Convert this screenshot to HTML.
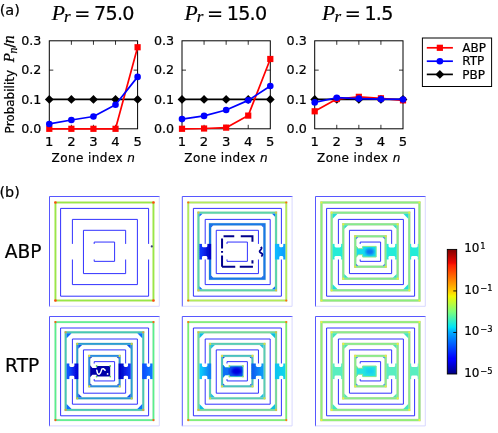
<!DOCTYPE html>
<html><head><meta charset="utf-8"><title>figure</title>
<style>
html,body{margin:0;padding:0;background:#fff;overflow:hidden;}
svg{display:block;}
text{font-family:"DejaVu Sans","Liberation Sans",sans-serif;fill:#000;stroke:#000;stroke-width:0.2px;}
.it{font-family:"DejaVu Serif","Liberation Serif",serif;font-style:italic;}
.ob{font-style:italic;}
.it2{font-family:"Liberation Serif","DejaVu Serif",serif;font-style:italic;}
</style></head><body>
<svg width="498" height="433" viewBox="0 0 498 433">
<defs>
<filter id="b03" x="-10%" y="-10%" width="120%" height="120%"><feGaussianBlur stdDeviation="0.45"/></filter>
<filter id="b06" x="-10%" y="-10%" width="120%" height="120%"><feGaussianBlur stdDeviation="0.6"/></filter>
<filter id="b10" x="-20%" y="-20%" width="140%" height="140%"><feGaussianBlur stdDeviation="1.0"/></filter>
<linearGradient id="jet" x1="0" y1="1" x2="0" y2="0">
<stop offset="0" stop-color="#000080"/>
<stop offset="0.11" stop-color="#0000ff"/>
<stop offset="0.125" stop-color="#0000ff"/>
<stop offset="0.34" stop-color="#00b0ff"/>
<stop offset="0.375" stop-color="#00e4f8"/>
<stop offset="0.5" stop-color="#7dff7a"/>
<stop offset="0.625" stop-color="#f4f802"/>
<stop offset="0.66" stop-color="#ffd000"/>
<stop offset="0.875" stop-color="#ff1e00"/>
<stop offset="0.89" stop-color="#f10800"/>
<stop offset="1" stop-color="#800000"/>
</linearGradient>
</defs>
<rect width="498" height="433" fill="#fff"/>

<g>
<rect x="49.3" y="40.8" width="88.3" height="88.00000000000001" fill="none" stroke="#000" stroke-width="1"/>
<path d="M71.38 128.8v-4M71.38 40.8v4M93.45 128.8v-4M93.45 40.8v4M115.52 128.8v-4M115.52 40.8v4M49.3 99.47h4M137.6 99.47h-4M49.3 70.13h4M137.6 70.13h-4" stroke="#000" stroke-width="0.8" fill="none"/>
<polyline points="49.30,99.47 71.38,99.47 93.45,99.47 115.52,99.47 137.60,99.47" fill="none" stroke="#000" stroke-width="1.7" stroke-linejoin="round"/><path d="M44.90 99.47L49.30 95.07L53.70 99.47L49.30 103.87Z" fill="#000"/><path d="M66.97 99.47L71.38 95.07L75.78 99.47L71.38 103.87Z" fill="#000"/><path d="M89.05 99.47L93.45 95.07L97.85 99.47L93.45 103.87Z" fill="#000"/><path d="M111.12 99.47L115.52 95.07L119.92 99.47L115.52 103.87Z" fill="#000"/><path d="M133.20 99.47L137.60 95.07L142.00 99.47L137.60 103.87Z" fill="#000"/>
<polyline points="49.30,128.80 71.38,128.80 93.45,128.80 115.52,128.80 137.60,47.25" fill="none" stroke="#ff0000" stroke-width="1.7" stroke-linejoin="round"/><rect x="46.20" y="125.70" width="6.2" height="6.2" fill="#ff0000"/><rect x="68.28" y="125.70" width="6.2" height="6.2" fill="#ff0000"/><rect x="90.35" y="125.70" width="6.2" height="6.2" fill="#ff0000"/><rect x="112.42" y="125.70" width="6.2" height="6.2" fill="#ff0000"/><rect x="134.50" y="44.15" width="6.2" height="6.2" fill="#ff0000"/>
<polyline points="49.30,123.96 71.38,120.00 93.45,116.48 115.52,104.75 137.60,76.88" fill="none" stroke="#0000ff" stroke-width="1.7" stroke-linejoin="round"/><circle cx="49.30" cy="123.96" r="3.3" fill="#0000ff"/><circle cx="71.38" cy="120.00" r="3.3" fill="#0000ff"/><circle cx="93.45" cy="116.48" r="3.3" fill="#0000ff"/><circle cx="115.52" cy="104.75" r="3.3" fill="#0000ff"/><circle cx="137.60" cy="76.88" r="3.3" fill="#0000ff"/>
<text transform="translate(49.30,146.20) scale(1.1,1)" font-size="12" text-anchor="middle">1</text>
<text transform="translate(71.38,146.20) scale(1.1,1)" font-size="12" text-anchor="middle">2</text>
<text transform="translate(93.45,146.20) scale(1.1,1)" font-size="12" text-anchor="middle">3</text>
<text transform="translate(115.52,146.20) scale(1.1,1)" font-size="12" text-anchor="middle">4</text>
<text transform="translate(137.60,146.20) scale(1.1,1)" font-size="12" text-anchor="middle">5</text>
<text transform="translate(41.40,133.00) scale(1.06,1)" font-size="12" text-anchor="end">0.0</text>
<text transform="translate(41.40,103.67) scale(1.06,1)" font-size="12" text-anchor="end">0.1</text>
<text transform="translate(41.40,74.33) scale(1.06,1)" font-size="12" text-anchor="end">0.2</text>
<text transform="translate(41.40,45.00) scale(1.06,1)" font-size="12" text-anchor="end">0.3</text>
<text x="93.45" y="161.6" font-size="12" letter-spacing="0.42" text-anchor="middle">Zone index <tspan class="ob">n</tspan></text>
<text y="20.2" font-size="19.2"><tspan class="it2" font-size="21.6" x="51.70">P</tspan><tspan class="it2" font-size="17" dy="2.2" dx="-0.8">r</tspan><tspan dy="-2.2" x="74.30">=</tspan><tspan x="94.00" letter-spacing="-0.75">75.0</tspan></text>
</g>
<g>
<rect x="182.0" y="40.8" width="88.3" height="88.00000000000001" fill="none" stroke="#000" stroke-width="1"/>
<path d="M204.07 128.8v-4M204.07 40.8v4M226.15 128.8v-4M226.15 40.8v4M248.22 128.8v-4M248.22 40.8v4M182.0 99.47h4M270.3 99.47h-4M182.0 70.13h4M270.3 70.13h-4" stroke="#000" stroke-width="0.8" fill="none"/>
<polyline points="182.00,99.47 204.07,99.47 226.15,99.47 248.22,99.47 270.30,99.47" fill="none" stroke="#000" stroke-width="1.7" stroke-linejoin="round"/><path d="M177.60 99.47L182.00 95.07L186.40 99.47L182.00 103.87Z" fill="#000"/><path d="M199.67 99.47L204.07 95.07L208.47 99.47L204.07 103.87Z" fill="#000"/><path d="M221.75 99.47L226.15 95.07L230.55 99.47L226.15 103.87Z" fill="#000"/><path d="M243.82 99.47L248.22 95.07L252.62 99.47L248.22 103.87Z" fill="#000"/><path d="M265.90 99.47L270.30 95.07L274.70 99.47L270.30 103.87Z" fill="#000"/>
<polyline points="182.00,128.80 204.07,128.51 226.15,127.63 248.22,115.60 270.30,58.99" fill="none" stroke="#ff0000" stroke-width="1.7" stroke-linejoin="round"/><rect x="178.90" y="125.70" width="6.2" height="6.2" fill="#ff0000"/><rect x="200.97" y="125.41" width="6.2" height="6.2" fill="#ff0000"/><rect x="223.05" y="124.53" width="6.2" height="6.2" fill="#ff0000"/><rect x="245.12" y="112.50" width="6.2" height="6.2" fill="#ff0000"/><rect x="267.20" y="55.89" width="6.2" height="6.2" fill="#ff0000"/>
<polyline points="182.00,119.12 204.07,115.89 226.15,110.03 248.22,100.35 270.30,85.97" fill="none" stroke="#0000ff" stroke-width="1.7" stroke-linejoin="round"/><circle cx="182.00" cy="119.12" r="3.3" fill="#0000ff"/><circle cx="204.07" cy="115.89" r="3.3" fill="#0000ff"/><circle cx="226.15" cy="110.03" r="3.3" fill="#0000ff"/><circle cx="248.22" cy="100.35" r="3.3" fill="#0000ff"/><circle cx="270.30" cy="85.97" r="3.3" fill="#0000ff"/>
<text transform="translate(182.00,146.20) scale(1.1,1)" font-size="12" text-anchor="middle">1</text>
<text transform="translate(204.07,146.20) scale(1.1,1)" font-size="12" text-anchor="middle">2</text>
<text transform="translate(226.15,146.20) scale(1.1,1)" font-size="12" text-anchor="middle">3</text>
<text transform="translate(248.22,146.20) scale(1.1,1)" font-size="12" text-anchor="middle">4</text>
<text transform="translate(270.30,146.20) scale(1.1,1)" font-size="12" text-anchor="middle">5</text>
<text transform="translate(174.10,133.00) scale(1.06,1)" font-size="12" text-anchor="end">0.0</text>
<text transform="translate(174.10,103.67) scale(1.06,1)" font-size="12" text-anchor="end">0.1</text>
<text transform="translate(174.10,74.33) scale(1.06,1)" font-size="12" text-anchor="end">0.2</text>
<text transform="translate(174.10,45.00) scale(1.06,1)" font-size="12" text-anchor="end">0.3</text>
<text x="226.15" y="161.6" font-size="12" letter-spacing="0.42" text-anchor="middle">Zone index <tspan class="ob">n</tspan></text>
<text y="20.2" font-size="19.2"><tspan class="it2" font-size="21.6" x="184.40">P</tspan><tspan class="it2" font-size="17" dy="2.2" dx="-0.8">r</tspan><tspan dy="-2.2" x="207.00">=</tspan><tspan x="226.70" letter-spacing="-0.75">15.0</tspan></text>
</g>
<g>
<rect x="314.7" y="40.8" width="88.3" height="88.00000000000001" fill="none" stroke="#000" stroke-width="1"/>
<path d="M336.77 128.8v-4M336.77 40.8v4M358.85 128.8v-4M358.85 40.8v4M380.92 128.8v-4M380.92 40.8v4M314.7 99.47h4M403.0 99.47h-4M314.7 70.13h4M403.0 70.13h-4" stroke="#000" stroke-width="0.8" fill="none"/>
<polyline points="314.70,99.47 336.77,99.47 358.85,99.47 380.92,99.47 403.00,99.47" fill="none" stroke="#000" stroke-width="1.7" stroke-linejoin="round"/><path d="M310.30 99.47L314.70 95.07L319.10 99.47L314.70 103.87Z" fill="#000"/><path d="M332.38 99.47L336.77 95.07L341.17 99.47L336.77 103.87Z" fill="#000"/><path d="M354.45 99.47L358.85 95.07L363.25 99.47L358.85 103.87Z" fill="#000"/><path d="M376.52 99.47L380.92 95.07L385.32 99.47L380.92 103.87Z" fill="#000"/><path d="M398.60 99.47L403.00 95.07L407.40 99.47L403.00 103.87Z" fill="#000"/>
<polyline points="314.70,111.29 336.77,99.03 358.85,96.83 380.92,98.29 403.00,100.35" fill="none" stroke="#ff0000" stroke-width="1.7" stroke-linejoin="round"/><rect x="311.60" y="108.19" width="6.2" height="6.2" fill="#ff0000"/><rect x="333.67" y="95.93" width="6.2" height="6.2" fill="#ff0000"/><rect x="355.75" y="93.73" width="6.2" height="6.2" fill="#ff0000"/><rect x="377.82" y="95.19" width="6.2" height="6.2" fill="#ff0000"/><rect x="399.90" y="97.25" width="6.2" height="6.2" fill="#ff0000"/>
<polyline points="314.70,102.40 336.77,97.71 358.85,98.59 380.92,99.17 403.00,99.47" fill="none" stroke="#0000ff" stroke-width="1.7" stroke-linejoin="round"/><circle cx="314.70" cy="102.40" r="3.3" fill="#0000ff"/><circle cx="336.77" cy="97.71" r="3.3" fill="#0000ff"/><circle cx="358.85" cy="98.59" r="3.3" fill="#0000ff"/><circle cx="380.92" cy="99.17" r="3.3" fill="#0000ff"/><circle cx="403.00" cy="99.47" r="3.3" fill="#0000ff"/>
<text transform="translate(314.70,146.20) scale(1.1,1)" font-size="12" text-anchor="middle">1</text>
<text transform="translate(336.77,146.20) scale(1.1,1)" font-size="12" text-anchor="middle">2</text>
<text transform="translate(358.85,146.20) scale(1.1,1)" font-size="12" text-anchor="middle">3</text>
<text transform="translate(380.92,146.20) scale(1.1,1)" font-size="12" text-anchor="middle">4</text>
<text transform="translate(403.00,146.20) scale(1.1,1)" font-size="12" text-anchor="middle">5</text>
<text transform="translate(306.80,133.00) scale(1.06,1)" font-size="12" text-anchor="end">0.0</text>
<text transform="translate(306.80,103.67) scale(1.06,1)" font-size="12" text-anchor="end">0.1</text>
<text transform="translate(306.80,74.33) scale(1.06,1)" font-size="12" text-anchor="end">0.2</text>
<text transform="translate(306.80,45.00) scale(1.06,1)" font-size="12" text-anchor="end">0.3</text>
<text x="358.85" y="161.6" font-size="12" letter-spacing="0.42" text-anchor="middle">Zone index <tspan class="ob">n</tspan></text>
<text y="20.2" font-size="19.2"><tspan class="it2" font-size="21.6" x="322.10">P</tspan><tspan class="it2" font-size="17" dy="2.2" dx="-0.8">r</tspan><tspan dy="-2.2" x="344.70">=</tspan><tspan x="364.40" letter-spacing="-0.75">1.5</tspan></text>
</g>
<text transform="translate(14.4,133.4) rotate(-90)" font-size="12" text-anchor="start">Probability<tspan class="it2" font-size="15" dx="7.6" stroke-width="0.3">P</tspan><tspan class="it2" font-size="11.6" dy="2.2" dx="-0.2">n</tspan><tspan dy="-2.2" dx="-0.2" font-size="14">/</tspan><tspan class="it2" font-size="16.4" dx="-0.4">n</tspan></text>
<text transform="translate(-0.3,14.8) scale(1.07,1)" font-size="13.6" stroke-width="0.35">(a)</text>
<text transform="translate(-0.5,197.4) scale(1.05,1)" font-size="13.6" stroke-width="0.35">(b)</text>
<text x="4.8" y="257.7" font-size="18.6" stroke-width="0.4">ABP</text>
<text x="5.1" y="371.8" font-size="18.6" stroke-width="0.4">RTP</text>
<g>
<rect x="422.4" y="38" width="69.2" height="48.5" fill="#fff" stroke="#000" stroke-width="1"/>
<path d="M426.8 47.8H452.9" stroke="#ff0000" stroke-width="1.7"/>
<rect x="436.75" y="44.70" width="6.2" height="6.2" fill="#ff0000"/>
<text x="462.3" y="51.90" font-size="12">ABP</text>
<path d="M426.8 61.2H452.9" stroke="#0000ff" stroke-width="1.7"/>
<circle cx="439.85" cy="61.20" r="3.3" fill="#0000ff"/>
<text x="462.3" y="65.30" font-size="12">RTP</text>
<path d="M426.8 74.4H452.9" stroke="#000" stroke-width="1.7"/>
<path d="M435.45 74.40L439.85 70.00L444.25 74.40L439.85 78.80Z" fill="#000"/>
<text x="462.3" y="78.50" font-size="12">PBP</text>
</g>
<g>
<rect x="447.3" y="249.4" width="9.4" height="124.6" fill="url(#jet)" stroke="#000" stroke-width="0.9"/>
<text x="464.2" y="252.30" font-size="12">10<tspan font-size="8.4" dy="-3.3" dx="0.7">1</tspan></text>
<path d="M456.7 290.93h-3.4" stroke="#000" stroke-width="0.9"/>
<text x="464.2" y="293.83" font-size="12">10<tspan font-size="8.4" dy="-3.3" dx="0.7">−1</tspan></text>
<path d="M456.7 332.47h-3.4" stroke="#000" stroke-width="0.9"/>
<text x="464.2" y="335.37" font-size="12">10<tspan font-size="8.4" dy="-3.3" dx="0.7">−3</tspan></text>
<text x="464.2" y="376.90" font-size="12">10<tspan font-size="8.4" dy="-3.3" dx="0.7">−5</tspan></text>
</g>
<g transform="translate(49.2,196.1)">
<g filter="url(#b03)">
<rect x="6.25" y="6.40" width="98.00" height="98.00" fill="none" stroke="#dcecb0" stroke-width="2.3"/>
<rect x="6.25" y="6.40" width="98.00" height="98.00" fill="none" stroke="#98e848" stroke-width="1.5"/>
</g>

<g filter="url(#b06)">
</g>

<g filter="url(#b03)"></g>
<g filter="url(#b06)">
<circle cx="6.25" cy="6.40" r="1.3" fill="#ff4a10"/>
<circle cx="6.25" cy="104.40" r="1.3" fill="#ff4a10"/>
<circle cx="104.25" cy="6.40" r="1.3" fill="#ff4a10"/>
<circle cx="104.25" cy="104.40" r="1.3" fill="#ff4a10"/>
</g>
<path d="M99.40 47.40V12.30H11.40V100.10H99.40V63.80M23.20 47.40V23.30H88.20V88.50H23.20V63.80M76.45 47.40V34.20H34.25V77.50H76.45V63.80M45.00 47.45V45.95H65.40V65.25H45.00V63.75" fill="none" stroke="#2626ff" stroke-width="0.95" stroke-linejoin="round" stroke-linecap="round"/>
<circle cx="102.6" cy="50.3" r="1.1" fill="#3a3a78"/>
<path d="M0.3 110.5V0.4H110.5" fill="none" stroke="#4444ff" stroke-width="0.9"/>
<path d="M0.3 110.2H110.1V0.4" fill="none" stroke="#d4d4ff" stroke-width="0.9"/>
</g>
<g transform="translate(182.0,196.1)">
<g filter="url(#b03)">
<rect x="6.25" y="6.40" width="98.00" height="98.00" fill="none" stroke="#dfe8df" stroke-width="2.5"/>
<rect x="6.25" y="6.40" width="98.00" height="98.00" fill="none" stroke="#b4ec5a" stroke-width="1.7"/>
<rect x="16.45" y="16.60" width="77.60" height="77.60" fill="none" stroke="#dfe8df" stroke-width="2.8"/>
<rect x="16.45" y="16.60" width="77.60" height="77.60" fill="none" stroke="#5cd4a8" stroke-width="2.0"/>
<rect x="28.05" y="28.20" width="54.40" height="54.40" fill="none" stroke="#dfe8df" stroke-width="3.0"/>
<rect x="28.05" y="28.20" width="54.40" height="54.40" fill="none" stroke="#1478e6" stroke-width="2.2"/>
</g>

<g filter="url(#b06)">
<linearGradient id="g1" x1="0" y1="0" x2="1" y2="0"><stop offset="0.15" stop-color="#10b8ff"/><stop offset="0.85" stop-color="#08a0ff"/></linearGradient><rect x="92.95" y="47.80" width="10.40" height="15.60" fill="url(#g1)"/>
<linearGradient id="g2" x1="0" y1="0" x2="1" y2="0"><stop offset="0.15" stop-color="#0a38ff"/><stop offset="0.85" stop-color="#0404c8"/></linearGradient><rect x="17.35" y="47.80" width="11.80" height="15.60" fill="url(#g2)"/>
</g>
<g filter="url(#b03)"><path d="M40.05 70.60V59.40M40.05 56.60v-1.6M40.05 52.40V42.40M41.55 40.20H52.25M58.75 40.20H70.45V45.70M70.45 64.10v3.4M70.95 70.60H57.75M53.25 70.60H40.05" stroke="#06068c" stroke-width="2" fill="none"/><path d="M78.25 50.40q2.6 1.2 0.4 3.4q-2.4 2 0.6 3.2q2.4 1.2 0 3.6" stroke="#06068c" stroke-width="1.8" fill="none"/></g>
<g filter="url(#b03)"><rect x="97.25" y="45.30" width="4.00" height="5.90" rx="1.4" fill="#fff"/><rect x="97.25" y="60.00" width="4.00" height="5.90" rx="1.4" fill="#fff"/><rect x="19.95" y="45.30" width="5.40" height="5.90" rx="1.4" fill="#fff"/><rect x="19.95" y="60.00" width="5.40" height="5.90" rx="1.4" fill="#fff"/><rect x="73.85" y="45.30" width="5.60" height="5.90" rx="1.4" fill="#fff"/><rect x="73.85" y="60.00" width="5.60" height="5.90" rx="1.4" fill="#fff"/></g>
<g filter="url(#b06)">
<circle cx="6.25" cy="6.40" r="1.1" fill="#ff6a10"/>
<circle cx="6.25" cy="104.40" r="1.1" fill="#ff6a10"/>
<circle cx="104.25" cy="6.40" r="1.1" fill="#ff6a10"/>
<circle cx="104.25" cy="104.40" r="1.1" fill="#ff6a10"/>
<circle cx="16.45" cy="16.60" r="1.1" fill="#e0c040"/>
<circle cx="16.45" cy="94.20" r="1.1" fill="#e0c040"/>
<circle cx="94.05" cy="16.60" r="1.1" fill="#e0c040"/>
<circle cx="94.05" cy="94.20" r="1.1" fill="#e0c040"/>
<path d="M17.45 17.60L20.49 17.60L17.45 20.64Z" fill="#0a6cff"/>
<path d="M17.45 93.20L20.49 93.20L17.45 90.16Z" fill="#0a6cff"/>
<path d="M93.05 17.60L90.01 17.60L93.05 20.64Z" fill="#0a6cff"/>
<path d="M93.05 93.20L90.01 93.20L93.05 90.16Z" fill="#0a6cff"/>
<path d="M29.05 29.20L31.33 29.20L29.05 31.48Z" fill="#0a50f0"/>
<path d="M29.05 81.60L31.33 81.60L29.05 79.32Z" fill="#0a50f0"/>
<path d="M81.45 29.20L79.17 29.20L81.45 31.48Z" fill="#0a50f0"/>
<path d="M81.45 81.60L79.17 81.60L81.45 79.32Z" fill="#0a50f0"/>
</g>
<path d="M99.40 47.40V12.30H11.40V100.10H99.40V63.80M23.20 47.40V23.30H88.20V88.50H23.20V63.80M76.45 47.40V34.20H34.25V77.50H76.45V63.80M45.00 47.45V45.95H65.40V65.25H45.00V63.75" fill="none" stroke="#2626ff" stroke-width="0.95" stroke-linejoin="round" stroke-linecap="round"/>

<path d="M0.3 110.5V0.4H110.5" fill="none" stroke="#4444ff" stroke-width="0.9"/>
<path d="M0.3 110.2H110.1V0.4" fill="none" stroke="#d4d4ff" stroke-width="0.9"/>
</g>
<g transform="translate(315.2,196.1)">
<g filter="url(#b03)">
<rect x="6.25" y="6.40" width="98.00" height="98.00" fill="none" stroke="#c4d6bc" stroke-width="2.55"/>
<rect x="6.25" y="6.40" width="98.00" height="98.00" fill="none" stroke="#8cf07a" stroke-width="1.75"/>
<rect x="16.45" y="16.60" width="77.60" height="77.60" fill="none" stroke="#c4d6bc" stroke-width="2.55"/>
<rect x="16.45" y="16.60" width="77.60" height="77.60" fill="none" stroke="#84ec8c" stroke-width="1.75"/>
<rect x="28.05" y="28.20" width="54.40" height="54.40" fill="none" stroke="#c4d6bc" stroke-width="2.55"/>
<rect x="28.05" y="28.20" width="54.40" height="54.40" fill="none" stroke="#84ec8c" stroke-width="1.75"/>
<rect x="40.05" y="40.20" width="30.40" height="30.40" fill="none" stroke="#c4d6bc" stroke-width="2.55"/>
<rect x="40.05" y="40.20" width="30.40" height="30.40" fill="none" stroke="#84ec8c" stroke-width="1.75"/>
</g>

<g filter="url(#b06)">
<rect x="94.85" y="47.80" width="8.50" height="15.60" fill="#22ecd8"/>
<rect x="17.35" y="47.80" width="9.90" height="15.60" fill="#22ecd8"/>
<rect x="71.25" y="47.80" width="10.30" height="15.60" fill="#22ecd8"/>
</g>
<g filter="url(#b06)"><path d="M40.95 50.00L43.15 52.60H47.40V50.30H61.00V60.90H47.40V58.60H43.15L40.95 61.20Z" fill="#18dcec" stroke="#86e890" stroke-width="1"/></g><g filter="url(#b10)"><ellipse cx="54.6" cy="55.60" rx="4.2" ry="3.3" fill="#0a78f4"/></g>
<g filter="url(#b03)"><rect x="95.95" y="45.30" width="6.60" height="6.10" rx="1.4" fill="#fff"/><rect x="95.95" y="59.80" width="6.60" height="6.10" rx="1.4" fill="#fff"/><rect x="19.35" y="45.30" width="6.60" height="6.10" rx="1.4" fill="#fff"/><rect x="19.35" y="59.80" width="6.60" height="6.10" rx="1.4" fill="#fff"/><rect x="73.35" y="45.30" width="6.60" height="6.10" rx="1.4" fill="#fff"/><rect x="73.35" y="59.80" width="6.60" height="6.10" rx="1.4" fill="#fff"/></g>
<g filter="url(#b06)">
<circle cx="6.25" cy="6.40" r="1.1" fill="#e8f040"/>
<circle cx="6.25" cy="104.40" r="1.1" fill="#e8f040"/>
<circle cx="104.25" cy="6.40" r="1.1" fill="#e8f040"/>
<circle cx="104.25" cy="104.40" r="1.1" fill="#e8f040"/>
<circle cx="16.45" cy="16.60" r="1.1" fill="#e8f040"/>
<circle cx="16.45" cy="94.20" r="1.1" fill="#e8f040"/>
<circle cx="94.05" cy="16.60" r="1.1" fill="#e8f040"/>
<circle cx="94.05" cy="94.20" r="1.1" fill="#e8f040"/>
<circle cx="28.05" cy="28.20" r="1.1" fill="#e8f040"/>
<circle cx="28.05" cy="82.60" r="1.1" fill="#e8f040"/>
<circle cx="82.45" cy="28.20" r="1.1" fill="#e8f040"/>
<circle cx="82.45" cy="82.60" r="1.1" fill="#e8f040"/>
<circle cx="40.05" cy="40.20" r="1.1" fill="#e8e040"/>
<circle cx="40.05" cy="70.60" r="1.1" fill="#e8e040"/>
<circle cx="70.45" cy="40.20" r="1.1" fill="#e8e040"/>
<circle cx="70.45" cy="70.60" r="1.1" fill="#e8e040"/>
<path d="M17.45 17.60L22.39 17.60L17.45 22.54Z" fill="#20e0d8"/>
<path d="M17.45 93.20L22.39 93.20L17.45 88.26Z" fill="#20e0d8"/>
<path d="M93.05 17.60L88.11 17.60L93.05 22.54Z" fill="#20e0d8"/>
<path d="M93.05 93.20L88.11 93.20L93.05 88.26Z" fill="#20e0d8"/>
<path d="M29.05 29.20L32.85 29.20L29.05 33.00Z" fill="#30e0c0"/>
<path d="M29.05 81.60L32.85 81.60L29.05 77.80Z" fill="#30e0c0"/>
<path d="M81.45 29.20L77.65 29.20L81.45 33.00Z" fill="#30e0c0"/>
<path d="M81.45 81.60L77.65 81.60L81.45 77.80Z" fill="#30e0c0"/>
<path d="M41.05 41.20L42.95 41.20L41.05 43.10Z" fill="#2060f0"/>
<path d="M41.05 69.60L42.95 69.60L41.05 67.70Z" fill="#2060f0"/>
<path d="M69.45 41.20L67.55 41.20L69.45 43.10Z" fill="#2060f0"/>
<path d="M69.45 69.60L67.55 69.60L69.45 67.70Z" fill="#2060f0"/>
</g>
<path d="M99.40 47.40V12.30H11.40V100.10H99.40V63.80M23.20 47.40V23.30H88.20V88.50H23.20V63.80M76.45 47.40V34.20H34.25V77.50H76.45V63.80M45.00 47.45V45.95H65.40V65.25H45.00V63.75" fill="none" stroke="#2626ff" stroke-width="0.95" stroke-linejoin="round" stroke-linecap="round"/>

<path d="M0.3 110.5V0.4H110.5" fill="none" stroke="#4444ff" stroke-width="0.9"/>
<path d="M0.3 110.2H110.1V0.4" fill="none" stroke="#d4d4ff" stroke-width="0.9"/>
</g>
<g transform="translate(49.2,315.7)">
<g filter="url(#b03)">
<rect x="6.25" y="6.40" width="98.00" height="98.00" fill="none" stroke="#dfe8df" stroke-width="2.4000000000000004"/>
<rect x="6.25" y="6.40" width="98.00" height="98.00" fill="none" stroke="#58f08c" stroke-width="1.6"/>
<rect x="16.45" y="16.60" width="77.60" height="77.60" fill="none" stroke="#dfe8df" stroke-width="2.7"/>
<rect x="16.45" y="16.60" width="77.60" height="77.60" fill="none" stroke="#46c8b4" stroke-width="1.9"/>
<rect x="28.05" y="28.20" width="54.40" height="54.40" fill="none" stroke="#dfe8df" stroke-width="2.7"/>
<rect x="28.05" y="28.20" width="54.40" height="54.40" fill="none" stroke="#2c9cd2" stroke-width="1.9"/>
<rect x="40.05" y="40.20" width="30.40" height="30.40" fill="none" stroke="#dfe8df" stroke-width="2.7"/>
<rect x="40.05" y="40.20" width="30.40" height="30.40" fill="none" stroke="#2a8ce0" stroke-width="1.9"/>
</g>

<g filter="url(#b06)">
<linearGradient id="g3" x1="0" y1="0" x2="1" y2="0"><stop offset="0.15" stop-color="#0a50ff"/><stop offset="0.85" stop-color="#0a78ff"/></linearGradient><rect x="92.95" y="47.80" width="10.40" height="15.60" fill="url(#g3)"/>
<linearGradient id="g4" x1="0" y1="0" x2="1" y2="0"><stop offset="0.15" stop-color="#0a58ff"/><stop offset="0.85" stop-color="#0606dc"/></linearGradient><rect x="17.35" y="47.80" width="11.80" height="15.60" fill="url(#g4)"/>
<linearGradient id="g5" x1="0" y1="0" x2="1" y2="0"><stop offset="0.15" stop-color="#0404c8"/><stop offset="0.85" stop-color="#0a30f8"/></linearGradient><rect x="69.35" y="47.80" width="12.20" height="15.60" fill="url(#g5)"/>
</g>
<g filter="url(#b06)"><path d="M40.95 49.60L43.15 52.20H47.40V50.30H61.00V60.90H47.40V59.00H43.15L40.95 61.60Z" fill="#0606a8"/><circle cx="47.40" cy="50.30" r="0.9" fill="#60d060"/><circle cx="61.00" cy="50.30" r="0.9" fill="#60d060"/><circle cx="47.40" cy="60.90" r="0.9" fill="#60d060"/><circle cx="61.00" cy="60.90" r="0.9" fill="#60d060"/></g><g filter="url(#b03)"><path d="M47.6 54.6Q48.4 58.8 49.8 58.6Q51.4 58 52.6 53.4Q54.2 52.2 55.9 54.6" stroke="#fff" stroke-width="1.5" fill="none" stroke-linecap="round"/><circle cx="58.4" cy="58.2" r="0.9" fill="#fff"/></g>
<g filter="url(#b03)"><rect x="97.55" y="45.30" width="3.40" height="5.90" rx="1.4" fill="#fff"/><rect x="97.55" y="60.00" width="3.40" height="5.90" rx="1.4" fill="#fff"/><rect x="20.15" y="45.30" width="5.00" height="5.90" rx="1.4" fill="#fff"/><rect x="20.15" y="60.00" width="5.00" height="5.90" rx="1.4" fill="#fff"/><rect x="74.45" y="45.30" width="4.40" height="5.90" rx="1.4" fill="#fff"/><rect x="74.45" y="60.00" width="4.40" height="5.90" rx="1.4" fill="#fff"/></g>
<g filter="url(#b06)">
<circle cx="6.25" cy="6.40" r="1.1" fill="#ff5a10"/>
<circle cx="6.25" cy="104.40" r="1.1" fill="#ff5a10"/>
<circle cx="104.25" cy="6.40" r="1.1" fill="#ff5a10"/>
<circle cx="104.25" cy="104.40" r="1.1" fill="#ff5a10"/>
<circle cx="16.45" cy="16.60" r="1.1" fill="#d8a040"/>
<circle cx="16.45" cy="94.20" r="1.1" fill="#d8a040"/>
<circle cx="94.05" cy="16.60" r="1.1" fill="#d8a040"/>
<circle cx="94.05" cy="94.20" r="1.1" fill="#d8a040"/>
<circle cx="28.05" cy="28.20" r="1.1" fill="#c8d040"/>
<circle cx="28.05" cy="82.60" r="1.1" fill="#c8d040"/>
<circle cx="82.45" cy="28.20" r="1.1" fill="#c8d040"/>
<circle cx="82.45" cy="82.60" r="1.1" fill="#c8d040"/>
<circle cx="40.05" cy="40.20" r="1.1" fill="#e8e040"/>
<circle cx="40.05" cy="70.60" r="1.1" fill="#e8e040"/>
<circle cx="70.45" cy="40.20" r="1.1" fill="#e8e040"/>
<circle cx="70.45" cy="70.60" r="1.1" fill="#e8e040"/>
<path d="M17.45 17.60L22.39 17.60L17.45 22.54Z" fill="#0a70ff"/>
<path d="M17.45 93.20L22.39 93.20L17.45 88.26Z" fill="#0a70ff"/>
<path d="M93.05 17.60L88.11 17.60L93.05 22.54Z" fill="#0a70ff"/>
<path d="M93.05 93.20L88.11 93.20L93.05 88.26Z" fill="#0a70ff"/>
<path d="M29.05 29.20L32.85 29.20L29.05 33.00Z" fill="#0a50f0"/>
<path d="M29.05 81.60L32.85 81.60L29.05 77.80Z" fill="#0a50f0"/>
<path d="M81.45 29.20L77.65 29.20L81.45 33.00Z" fill="#0a50f0"/>
<path d="M81.45 81.60L77.65 81.60L81.45 77.80Z" fill="#0a50f0"/>
<path d="M41.05 41.20L42.95 41.20L41.05 43.10Z" fill="#0a20c0"/>
<path d="M41.05 69.60L42.95 69.60L41.05 67.70Z" fill="#0a20c0"/>
<path d="M69.45 41.20L67.55 41.20L69.45 43.10Z" fill="#0a20c0"/>
<path d="M69.45 69.60L67.55 69.60L69.45 67.70Z" fill="#0a20c0"/>
</g>
<path d="M99.40 47.40V12.30H11.40V100.10H99.40V63.80M23.20 47.40V23.30H88.20V88.50H23.20V63.80M76.45 47.40V34.20H34.25V77.50H76.45V63.80M45.00 47.45V45.95H65.40V65.25H45.00V63.75" fill="none" stroke="#2626ff" stroke-width="0.95" stroke-linejoin="round" stroke-linecap="round"/>

<path d="M0.3 110.5V0.8H110.5" fill="none" stroke="#4444ff" stroke-width="0.9"/>
<path d="M0.3 110.2H110.1V0.8" fill="none" stroke="#d4d4ff" stroke-width="0.9"/>
</g>
<g transform="translate(182.0,315.7)">
<g filter="url(#b03)">
<rect x="6.25" y="6.40" width="98.00" height="98.00" fill="none" stroke="#dfe8df" stroke-width="2.4000000000000004"/>
<rect x="6.25" y="6.40" width="98.00" height="98.00" fill="none" stroke="#78f070" stroke-width="1.6"/>
<rect x="16.45" y="16.60" width="77.60" height="77.60" fill="none" stroke="#dfe8df" stroke-width="2.7"/>
<rect x="16.45" y="16.60" width="77.60" height="77.60" fill="none" stroke="#74d89a" stroke-width="1.9"/>
<rect x="28.05" y="28.20" width="54.40" height="54.40" fill="none" stroke="#dfe8df" stroke-width="2.7"/>
<rect x="28.05" y="28.20" width="54.40" height="54.40" fill="none" stroke="#58ccb4" stroke-width="1.9"/>
<rect x="40.05" y="40.20" width="30.40" height="30.40" fill="none" stroke="#dfe8df" stroke-width="2.7"/>
<rect x="40.05" y="40.20" width="30.40" height="30.40" fill="none" stroke="#48c0c0" stroke-width="1.9"/>
</g>

<g filter="url(#b06)">
<linearGradient id="g6" x1="0" y1="0" x2="1" y2="0"><stop offset="0.15" stop-color="#10c4f0"/><stop offset="0.85" stop-color="#10d4ec"/></linearGradient><rect x="92.95" y="47.80" width="10.40" height="15.60" fill="url(#g6)"/>
<linearGradient id="g7" x1="0" y1="0" x2="1" y2="0"><stop offset="0.15" stop-color="#10c8fa"/><stop offset="0.85" stop-color="#0a80f4"/></linearGradient><rect x="17.35" y="47.80" width="11.80" height="15.60" fill="url(#g7)"/>
<linearGradient id="g8" x1="0" y1="0" x2="1" y2="0"><stop offset="0.15" stop-color="#0a60f2"/><stop offset="0.85" stop-color="#0a98f8"/></linearGradient><rect x="69.35" y="47.80" width="12.20" height="15.60" fill="url(#g8)"/>
</g>
<g filter="url(#b06)"><path d="M40.95 49.40L43.15 52.00H47.40V50.30H61.00V60.90H47.40V59.20H43.15L40.95 61.80Z" fill="#0a50f0" stroke="#38c0c8" stroke-width="1"/><path d="M40.95 49.40L43.15 52.00H46.40V59.20H43.15L40.95 61.80Z" fill="#0a70f6"/><circle cx="47.40" cy="50.30" r="0.9" fill="#a0e060"/><circle cx="61.00" cy="50.30" r="0.9" fill="#a0e060"/><circle cx="47.40" cy="60.90" r="0.9" fill="#a0e060"/><circle cx="61.00" cy="60.90" r="0.9" fill="#a0e060"/></g><g filter="url(#b10)"><ellipse cx="54.6" cy="55.60" rx="5.2" ry="3.6" fill="#0404e0"/></g>
<g filter="url(#b03)"><rect x="97.25" y="45.30" width="4.00" height="5.90" rx="1.4" fill="#fff"/><rect x="97.25" y="60.00" width="4.00" height="5.90" rx="1.4" fill="#fff"/><rect x="19.95" y="45.30" width="5.40" height="5.90" rx="1.4" fill="#fff"/><rect x="19.95" y="60.00" width="5.40" height="5.90" rx="1.4" fill="#fff"/><rect x="73.85" y="45.30" width="5.60" height="5.90" rx="1.4" fill="#fff"/><rect x="73.85" y="60.00" width="5.60" height="5.90" rx="1.4" fill="#fff"/></g>
<g filter="url(#b06)">
<circle cx="6.25" cy="6.40" r="1.1" fill="#ff7a10"/>
<circle cx="6.25" cy="104.40" r="1.1" fill="#ff7a10"/>
<circle cx="104.25" cy="6.40" r="1.1" fill="#ff7a10"/>
<circle cx="104.25" cy="104.40" r="1.1" fill="#ff7a10"/>
<circle cx="16.45" cy="16.60" r="1.1" fill="#d8c040"/>
<circle cx="16.45" cy="94.20" r="1.1" fill="#d8c040"/>
<circle cx="94.05" cy="16.60" r="1.1" fill="#d8c040"/>
<circle cx="94.05" cy="94.20" r="1.1" fill="#d8c040"/>
<circle cx="28.05" cy="28.20" r="1.1" fill="#d8e040"/>
<circle cx="28.05" cy="82.60" r="1.1" fill="#d8e040"/>
<circle cx="82.45" cy="28.20" r="1.1" fill="#d8e040"/>
<circle cx="82.45" cy="82.60" r="1.1" fill="#d8e040"/>
<circle cx="40.05" cy="40.20" r="1.1" fill="#e8e040"/>
<circle cx="40.05" cy="70.60" r="1.1" fill="#e8e040"/>
<circle cx="70.45" cy="40.20" r="1.1" fill="#e8e040"/>
<circle cx="70.45" cy="70.60" r="1.1" fill="#e8e040"/>
<path d="M17.45 17.60L22.39 17.60L17.45 22.54Z" fill="#10c0e0"/>
<path d="M17.45 93.20L22.39 93.20L17.45 88.26Z" fill="#10c0e0"/>
<path d="M93.05 17.60L88.11 17.60L93.05 22.54Z" fill="#10c0e0"/>
<path d="M93.05 93.20L88.11 93.20L93.05 88.26Z" fill="#10c0e0"/>
<path d="M29.05 29.20L32.85 29.20L29.05 33.00Z" fill="#20c0e0"/>
<path d="M29.05 81.60L32.85 81.60L29.05 77.80Z" fill="#20c0e0"/>
<path d="M81.45 29.20L77.65 29.20L81.45 33.00Z" fill="#20c0e0"/>
<path d="M81.45 81.60L77.65 81.60L81.45 77.80Z" fill="#20c0e0"/>
<path d="M41.05 41.20L42.95 41.20L41.05 43.10Z" fill="#1040e0"/>
<path d="M41.05 69.60L42.95 69.60L41.05 67.70Z" fill="#1040e0"/>
<path d="M69.45 41.20L67.55 41.20L69.45 43.10Z" fill="#1040e0"/>
<path d="M69.45 69.60L67.55 69.60L69.45 67.70Z" fill="#1040e0"/>
</g>
<path d="M99.40 47.40V12.30H11.40V100.10H99.40V63.80M23.20 47.40V23.30H88.20V88.50H23.20V63.80M76.45 47.40V34.20H34.25V77.50H76.45V63.80M45.00 47.45V45.95H65.40V65.25H45.00V63.75" fill="none" stroke="#2626ff" stroke-width="0.95" stroke-linejoin="round" stroke-linecap="round"/>

<path d="M0.3 110.5V0.8H110.5" fill="none" stroke="#4444ff" stroke-width="0.9"/>
<path d="M0.3 110.2H110.1V0.8" fill="none" stroke="#d4d4ff" stroke-width="0.9"/>
</g>
<g transform="translate(315.2,315.7)">
<g filter="url(#b03)">
<rect x="6.25" y="6.40" width="98.00" height="98.00" fill="none" stroke="#c4d6bc" stroke-width="2.55"/>
<rect x="6.25" y="6.40" width="98.00" height="98.00" fill="none" stroke="#92f074" stroke-width="1.75"/>
<rect x="16.45" y="16.60" width="77.60" height="77.60" fill="none" stroke="#c4d6bc" stroke-width="2.55"/>
<rect x="16.45" y="16.60" width="77.60" height="77.60" fill="none" stroke="#8aec88" stroke-width="1.75"/>
<rect x="28.05" y="28.20" width="54.40" height="54.40" fill="none" stroke="#c4d6bc" stroke-width="2.55"/>
<rect x="28.05" y="28.20" width="54.40" height="54.40" fill="none" stroke="#8aec88" stroke-width="1.75"/>
<rect x="40.05" y="40.20" width="30.40" height="30.40" fill="none" stroke="#c4d6bc" stroke-width="2.55"/>
<rect x="40.05" y="40.20" width="30.40" height="30.40" fill="none" stroke="#8aec88" stroke-width="1.75"/>
</g>

<g filter="url(#b06)">
<rect x="94.85" y="47.80" width="8.50" height="15.60" fill="#58eec0"/>
<rect x="17.35" y="47.80" width="9.90" height="15.60" fill="#58eec0"/>
<rect x="71.25" y="47.80" width="10.30" height="15.60" fill="#58eec0"/>
</g>
<g filter="url(#b06)"><path d="M40.95 50.00L43.15 52.60H47.40V50.30H61.00V60.90H47.40V58.60H43.15L40.95 61.20Z" fill="#28e4e0" stroke="#86e890" stroke-width="1"/></g><g filter="url(#b10)"><ellipse cx="54.6" cy="55.60" rx="4.2" ry="3.3" fill="#18d0f0"/></g>
<g filter="url(#b03)"><rect x="95.95" y="45.30" width="6.60" height="6.10" rx="1.4" fill="#fff"/><rect x="95.95" y="59.80" width="6.60" height="6.10" rx="1.4" fill="#fff"/><rect x="19.35" y="45.30" width="6.60" height="6.10" rx="1.4" fill="#fff"/><rect x="19.35" y="59.80" width="6.60" height="6.10" rx="1.4" fill="#fff"/><rect x="73.35" y="45.30" width="6.60" height="6.10" rx="1.4" fill="#fff"/><rect x="73.35" y="59.80" width="6.60" height="6.10" rx="1.4" fill="#fff"/></g>
<g filter="url(#b06)">
<circle cx="6.25" cy="6.40" r="1.1" fill="#f0f040"/>
<circle cx="6.25" cy="104.40" r="1.1" fill="#f0f040"/>
<circle cx="104.25" cy="6.40" r="1.1" fill="#f0f040"/>
<circle cx="104.25" cy="104.40" r="1.1" fill="#f0f040"/>
<circle cx="16.45" cy="16.60" r="1.1" fill="#f0f040"/>
<circle cx="16.45" cy="94.20" r="1.1" fill="#f0f040"/>
<circle cx="94.05" cy="16.60" r="1.1" fill="#f0f040"/>
<circle cx="94.05" cy="94.20" r="1.1" fill="#f0f040"/>
<circle cx="28.05" cy="28.20" r="1.1" fill="#f0f040"/>
<circle cx="28.05" cy="82.60" r="1.1" fill="#f0f040"/>
<circle cx="82.45" cy="28.20" r="1.1" fill="#f0f040"/>
<circle cx="82.45" cy="82.60" r="1.1" fill="#f0f040"/>
<circle cx="40.05" cy="40.20" r="1.1" fill="#f0e840"/>
<circle cx="40.05" cy="70.60" r="1.1" fill="#f0e840"/>
<circle cx="70.45" cy="40.20" r="1.1" fill="#f0e840"/>
<circle cx="70.45" cy="70.60" r="1.1" fill="#f0e840"/>
<path d="M17.45 17.60L22.39 17.60L17.45 22.54Z" fill="#40e8c0"/>
<path d="M17.45 93.20L22.39 93.20L17.45 88.26Z" fill="#40e8c0"/>
<path d="M93.05 17.60L88.11 17.60L93.05 22.54Z" fill="#40e8c0"/>
<path d="M93.05 93.20L88.11 93.20L93.05 88.26Z" fill="#40e8c0"/>
<path d="M29.05 29.20L32.85 29.20L29.05 33.00Z" fill="#50e8b0"/>
<path d="M29.05 81.60L32.85 81.60L29.05 77.80Z" fill="#50e8b0"/>
<path d="M81.45 29.20L77.65 29.20L81.45 33.00Z" fill="#50e8b0"/>
<path d="M81.45 81.60L77.65 81.60L81.45 77.80Z" fill="#50e8b0"/>
<path d="M41.05 41.20L42.95 41.20L41.05 43.10Z" fill="#2080f0"/>
<path d="M41.05 69.60L42.95 69.60L41.05 67.70Z" fill="#2080f0"/>
<path d="M69.45 41.20L67.55 41.20L69.45 43.10Z" fill="#2080f0"/>
<path d="M69.45 69.60L67.55 69.60L69.45 67.70Z" fill="#2080f0"/>
</g>
<path d="M99.40 47.40V12.30H11.40V100.10H99.40V63.80M23.20 47.40V23.30H88.20V88.50H23.20V63.80M76.45 47.40V34.20H34.25V77.50H76.45V63.80M45.00 47.45V45.95H65.40V65.25H45.00V63.75" fill="none" stroke="#2626ff" stroke-width="0.95" stroke-linejoin="round" stroke-linecap="round"/>

<path d="M0.3 110.5V0.8H110.5" fill="none" stroke="#4444ff" stroke-width="0.9"/>
<path d="M0.3 110.2H110.1V0.8" fill="none" stroke="#d4d4ff" stroke-width="0.9"/>
</g>
</svg></body></html>
